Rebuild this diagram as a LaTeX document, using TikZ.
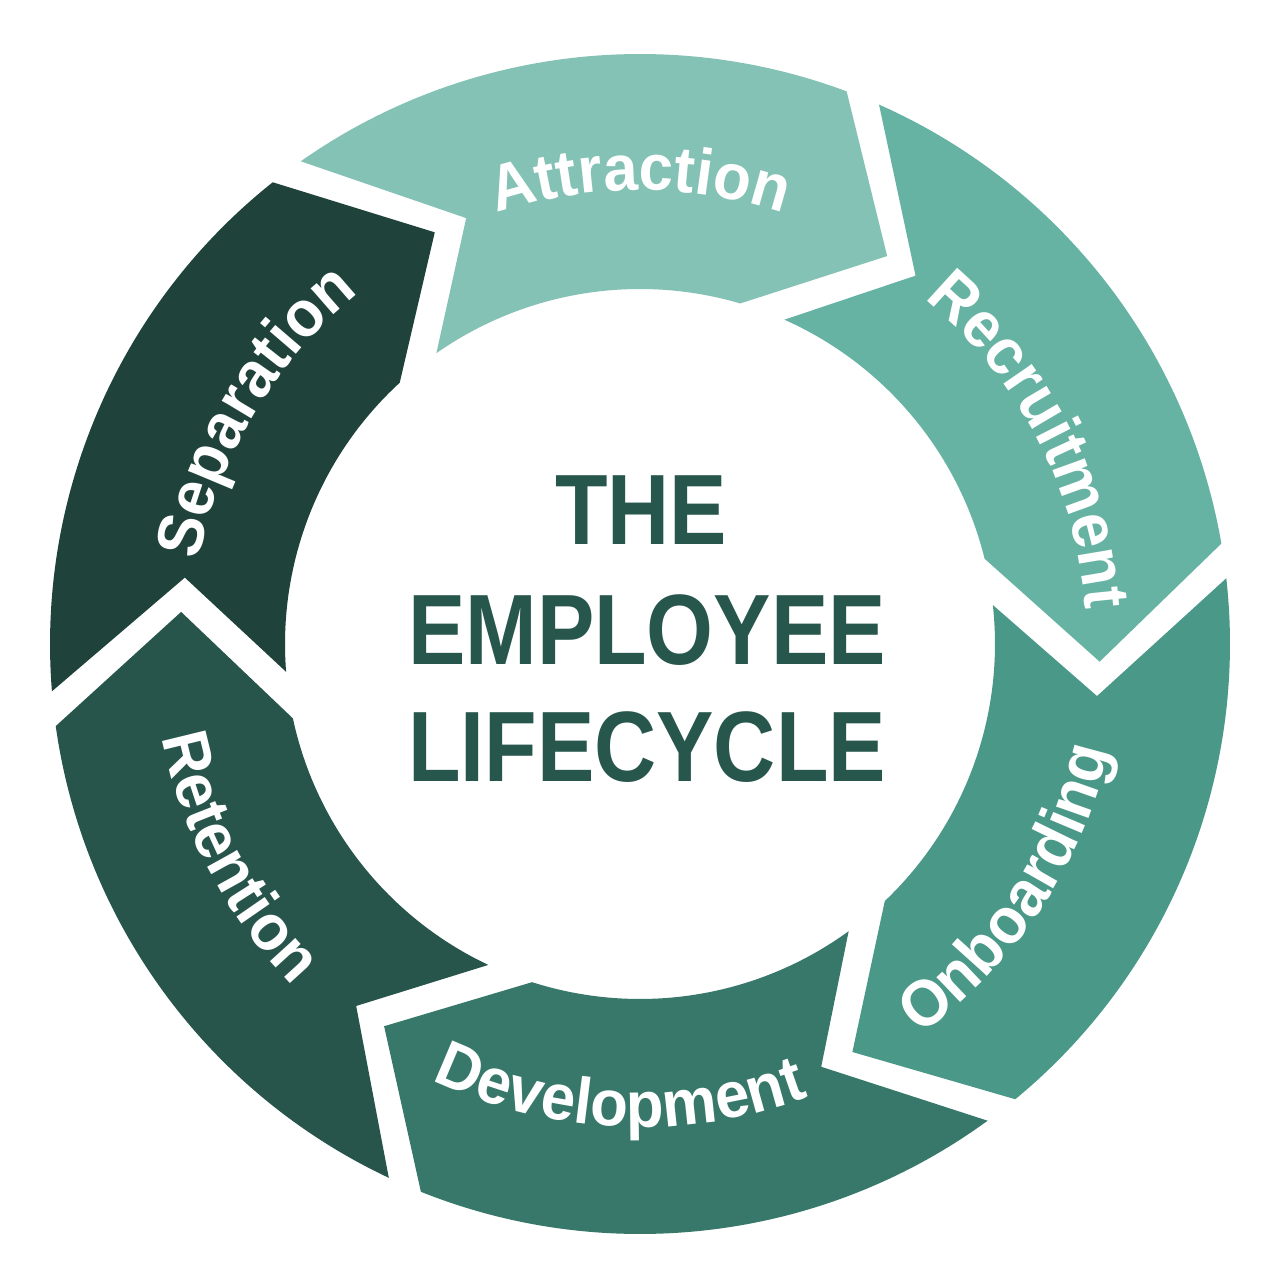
\documentclass[tikz,border=0pt]{standalone}
\usepackage{fontspec}
\setmainfont{Liberation Sans}
\newfontfamily\labelfont[FakeStretch=0.95]{Liberation Sans}
\newfontfamily\titlefont[FakeStretch=0.86]{Liberation Sans}
\usetikzlibrary{decorations.text}
\definecolor{cAttr}{HTML}{85C2B6}
\definecolor{cRecr}{HTML}{66B3A4}
\definecolor{cOnb}{HTML}{4A9888}
\definecolor{cDev}{HTML}{38786A}
\definecolor{cRet}{HTML}{27554B}
\definecolor{cSep}{HTML}{1F433A}
\definecolor{cTitle}{HTML}{27564C}
% #1 tail boundary angle, #2 head boundary angle, #3 colour
\newcommand{\ringseg}[3]{%
  \fill[#3] ({#1+1.1}:590) arc[start angle={#1+1.1}, end angle={#2+4.5}, radius=590]
    -- ({#2-7.5}:460) -- ({#2+8.6}:355)
    arc[start angle={#2+8.6}, end angle={#1+1.0}, radius=355]
    -- ({#1-11.8}:460) -- cycle;}
% clockwise label, tops outward: #1 angle, #2 baseline radius, #3 text
\newcommand{\cwlabel}[3]{%
  \path[decorate, decoration={text along path, text align=center, text color=white,
    text={|\labelfont\bfseries\fontsize{65}{65}\selectfont|#3}}]
    ({#1+40}:#2) arc[start angle={#1+40}, end angle={#1-40}, radius=#2];}
% counter-clockwise label, tops inward
\newcommand{\ccwlabel}[3]{%
  \path[decorate, decoration={text along path, text align=center, text color=white,
    text={|\labelfont\bfseries\fontsize{65}{65}\selectfont|#3}}]
    ({#1-40}:#2) arc[start angle={#1-40}, end angle={#1+40}, radius=#2];}
\tikzset{titletext/.style={font=\titlefont\bfseries\fontsize{100}{100}\selectfont, text=cTitle, anchor=base, inner sep=0pt}}
\begin{document}
\begin{tikzpicture}[x=1pt,y=1pt]
\useasboundingbox (0,0) rectangle (1280,1280);
\fill[white] (0,0) rectangle (1280,1280);
\begin{scope}[shift={(640,636)}]
  \ringseg{124}{65}{cAttr}
  \ringseg{65}{5.3}{cRecr}
  \ringseg{5.3}{-55}{cOnb}
  \ringseg{-55}{-116.3}{cDev}
  \ringseg{-116.3}{-176.5}{cRet}
  \ringseg{183.5}{124}{cSep}
  \cwlabel{90}{454}{Attraction}
  \cwlabel{27.5}{447}{Recruitment}
  \ccwlabel{-33.6}{481}{Onboarding}
  \ccwlabel{-92.6}{483}{Development}
  \ccwlabel{207.8}{487}{Retention}
  \cwlabel{149}{449}{Separation}
\end{scope}
\node[titletext] (t1) at (641,735) {THE};
\node[titletext] (t2) at (647,615) {EMPLOYEE};
\node[titletext] (t3) at (647,498) {LIFECYCLE};
\end{tikzpicture}
\end{document}
